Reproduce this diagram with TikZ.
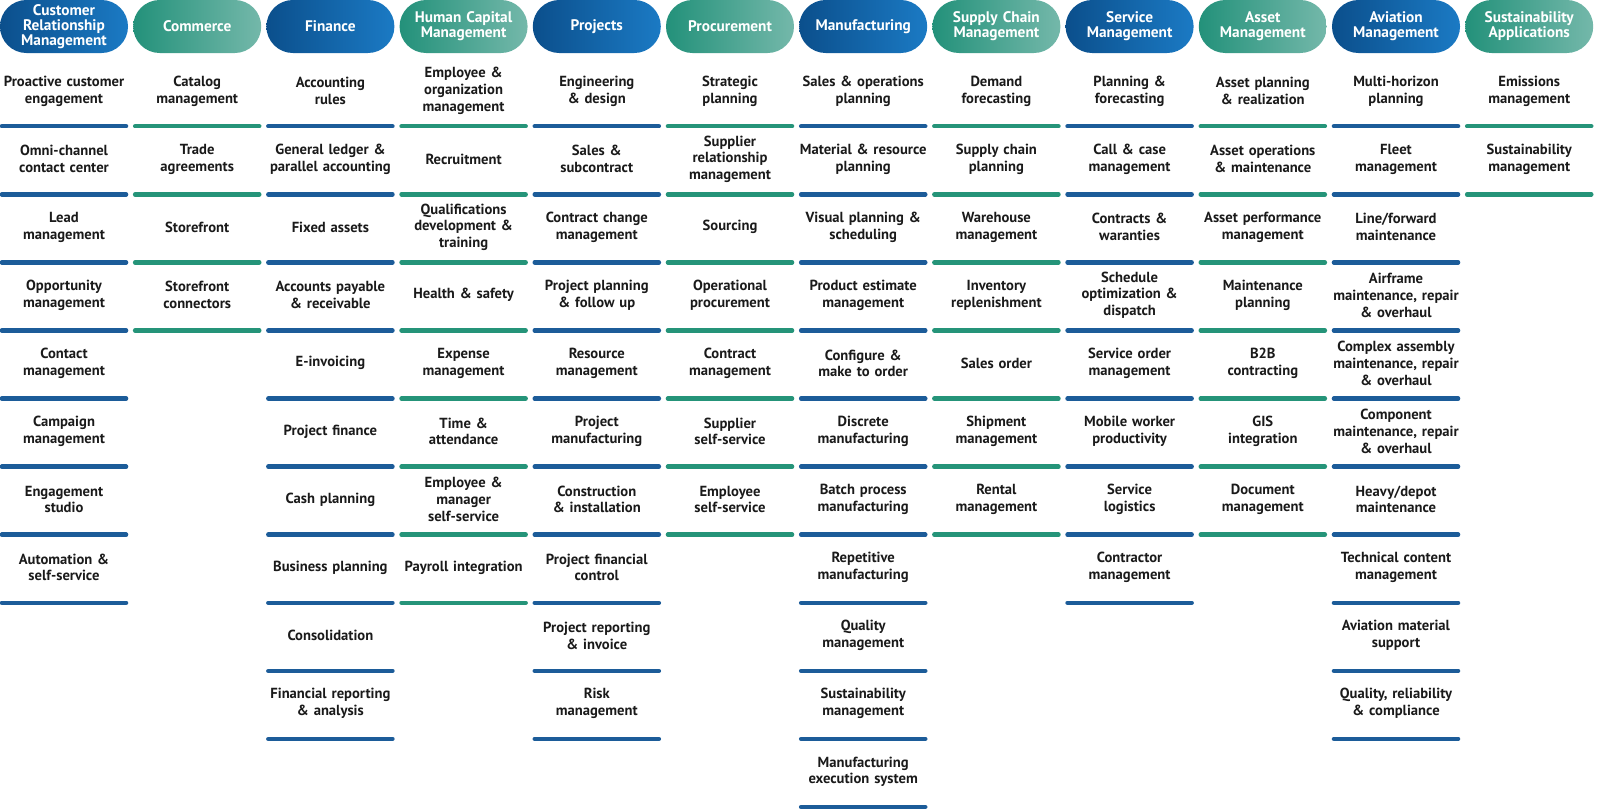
\documentclass[tikz,border=0pt]{standalone}
\usepackage{fontspec}
\setmainfont{PT Sans}
\definecolor{blueL}{HTML}{0B4F8C}
\definecolor{blueR}{HTML}{1B7AC4}
\definecolor{tealL}{HTML}{23917A}
\definecolor{tealR}{HTML}{74B8AA}
\definecolor{bluebarc}{HTML}{1C5C99}
\definecolor{tealbarc}{HTML}{259479}
\definecolor{ink}{HTML}{1A1A1A}
\begin{document}
\begin{tikzpicture}[x=0.025cm, y=-0.025cm,
    every node/.style={font=\bfseries\fontsize{10.4}{11.9}\selectfont},
    cell/.style={text width=3.33cm, align=center, inner sep=0pt, minimum height=1.75cm, text=ink},
    head/.style={text width=3.2cm, align=center, inner sep=0pt, minimum height=1.325cm, rounded corners=0.6625cm, text=white, font=\bfseries\fontsize{10.9}{10.7}\selectfont},
    bluehead/.style={head, left color=blueL, right color=blueR},
    tealhead/.style={head, left color=tealL, right color=tealR},
    bar/.style={line width=0.11cm, line cap=round, shorten <=0.12cm, shorten >=0.12cm},
    bluebar/.style={bar, bluebarc},
    tealbar/.style={bar, tealbarc}]
        \useasboundingbox (0, 0) rectangle (1600, 809);
        % headers
        \node [bluehead] (hcrm) at (64, 26.5) {Customer\\Relationship\\Management};
        \node [tealhead] (hcom) at (197.2, 26.5) {Commerce};
        \node [bluehead] (hfin) at (330.4, 26.5) {Finance};
        \node [tealhead] (hhcm) at (463.6, 26.5) {Human Capital\\Management};
        \node [bluehead] (hprj) at (596.8, 26.5) {Projects};
        \node [tealhead] (hpro) at (730, 26.5) {Procurement};
        \node [bluehead] (hmfg) at (863.2, 26.5) {Manufacturing};
        \node [tealhead] (hscm) at (996.4, 26.5) {Supply Chain\\Management};
        \node [bluehead] (hsvc) at (1129.6, 26.5) {Service\\Management};
        \node [tealhead] (hast) at (1262.8, 26.5) {Asset\\Management};
        \node [bluehead] (havi) at (1396, 26.5) {Aviation\\Management};
        \node [tealhead] (hsus) at (1529.2, 26.5) {Sustainability\\Applications};
        % customer relationship management
        \node [cell] (crm1) at (64, 91) {Proactive customer\\engagement};
        \node [cell] (crm2) at (64, 159.1) {Omni-channel\\contact center};
        \node [cell] (crm3) at (64, 227.1) {Lead\\management};
        \node [cell] (crm4) at (64, 295.2) {Opportunity\\management};
        \node [cell] (crm5) at (64, 363.3) {Contact\\management};
        \node [cell] (crm6) at (64, 431.4) {Campaign\\management};
        \node [cell] (crm7) at (64, 499.4) {Engagement\\studio};
        \node [cell] (crm8) at (64, 567.5) {Automation \&\\self-service};
        \draw [bluebar] (crm1.south west) -- (crm1.south east);
        \draw [bluebar] (crm2.south west) -- (crm2.south east);
        \draw [bluebar] (crm3.south west) -- (crm3.south east);
        \draw [bluebar] (crm4.south west) -- (crm4.south east);
        \draw [bluebar] (crm5.south west) -- (crm5.south east);
        \draw [bluebar] (crm6.south west) -- (crm6.south east);
        \draw [bluebar] (crm7.south west) -- (crm7.south east);
        \draw [bluebar] (crm8.south west) -- (crm8.south east);
        % commerce
        \node [cell] (com1) at (197.2, 91) {Catalog\\management};
        \node [cell] (com2) at (197.2, 159.1) {Trade\\agreements};
        \node [cell] (com3) at (197.2, 227.1) {Storefront};
        \node [cell] (com4) at (197.2, 295.2) {Storefront\\connectors};
        \draw [tealbar] (com1.south west) -- (com1.south east);
        \draw [tealbar] (com2.south west) -- (com2.south east);
        \draw [tealbar] (com3.south west) -- (com3.south east);
        \draw [tealbar] (com4.south west) -- (com4.south east);
        % finance
        \node [cell] (fin1) at (330.4, 91) {Accounting\\rules};
        \node [cell] (fin2) at (330.4, 159.1) {General ledger \&\\parallel accounting};
        \node [cell] (fin3) at (330.4, 227.1) {Fixed assets};
        \node [cell] (fin4) at (330.4, 295.2) {Accounts payable\\\& receivable};
        \node [cell] (fin5) at (330.4, 363.3) {E-invoicing};
        \node [cell] (fin6) at (330.4, 431.4) {Project finance};
        \node [cell] (fin7) at (330.4, 499.4) {Cash planning};
        \node [cell] (fin8) at (330.4, 567.5) {Business planning};
        \node [cell] (fin9) at (330.4, 635.6) {Consolidation};
        \node [cell] (fin10) at (330.4, 703.6) {Financial reporting\\\& analysis};
        \draw [bluebar] (fin1.south west) -- (fin1.south east);
        \draw [bluebar] (fin2.south west) -- (fin2.south east);
        \draw [bluebar] (fin3.south west) -- (fin3.south east);
        \draw [bluebar] (fin4.south west) -- (fin4.south east);
        \draw [bluebar] (fin5.south west) -- (fin5.south east);
        \draw [bluebar] (fin6.south west) -- (fin6.south east);
        \draw [bluebar] (fin7.south west) -- (fin7.south east);
        \draw [bluebar] (fin8.south west) -- (fin8.south east);
        \draw [bluebar] (fin9.south west) -- (fin9.south east);
        \draw [bluebar] (fin10.south west) -- (fin10.south east);
        % human capital management
        \node [cell] (hcm1) at (463.6, 91) {Employee \&\\organization\\management};
        \node [cell] (hcm2) at (463.6, 159.1) {Recruitment};
        \node [cell] (hcm3) at (463.6, 227.1) {Qualifications\\development \&\\training};
        \node [cell] (hcm4) at (463.6, 295.2) {Health \& safety};
        \node [cell] (hcm5) at (463.6, 363.3) {Expense\\management};
        \node [cell] (hcm6) at (463.6, 431.4) {Time \&\\attendance};
        \node [cell] (hcm7) at (463.6, 499.4) {Employee \&\\manager\\self-service};
        \node [cell] (hcm8) at (463.6, 567.5) {Payroll integration};
        \draw [tealbar] (hcm1.south west) -- (hcm1.south east);
        \draw [tealbar] (hcm2.south west) -- (hcm2.south east);
        \draw [tealbar] (hcm3.south west) -- (hcm3.south east);
        \draw [tealbar] (hcm4.south west) -- (hcm4.south east);
        \draw [tealbar] (hcm5.south west) -- (hcm5.south east);
        \draw [tealbar] (hcm6.south west) -- (hcm6.south east);
        \draw [tealbar] (hcm7.south west) -- (hcm7.south east);
        \draw [tealbar] (hcm8.south west) -- (hcm8.south east);
        % projects
        \node [cell] (prj1) at (596.8, 91) {Engineering\\\& design};
        \node [cell] (prj2) at (596.8, 159.1) {Sales \&\\subcontract};
        \node [cell] (prj3) at (596.8, 227.1) {Contract change\\management};
        \node [cell] (prj4) at (596.8, 295.2) {Project planning\\\& follow up};
        \node [cell] (prj5) at (596.8, 363.3) {Resource\\management};
        \node [cell] (prj6) at (596.8, 431.4) {Project\\manufacturing};
        \node [cell] (prj7) at (596.8, 499.4) {Construction\\\& installation};
        \node [cell] (prj8) at (596.8, 567.5) {Project financial\\control};
        \node [cell] (prj9) at (596.8, 635.6) {Project reporting\\\& invoice};
        \node [cell] (prj10) at (596.8, 703.6) {Risk\\management};
        \draw [bluebar] (prj1.south west) -- (prj1.south east);
        \draw [bluebar] (prj2.south west) -- (prj2.south east);
        \draw [bluebar] (prj3.south west) -- (prj3.south east);
        \draw [bluebar] (prj4.south west) -- (prj4.south east);
        \draw [bluebar] (prj5.south west) -- (prj5.south east);
        \draw [bluebar] (prj6.south west) -- (prj6.south east);
        \draw [bluebar] (prj7.south west) -- (prj7.south east);
        \draw [bluebar] (prj8.south west) -- (prj8.south east);
        \draw [bluebar] (prj9.south west) -- (prj9.south east);
        \draw [bluebar] (prj10.south west) -- (prj10.south east);
        % procurement
        \node [cell] (pro1) at (730, 91) {Strategic\\planning};
        \node [cell] (pro2) at (730, 159.1) {Supplier\\relationship\\management};
        \node [cell] (pro3) at (730, 227.1) {Sourcing};
        \node [cell] (pro4) at (730, 295.2) {Operational\\procurement};
        \node [cell] (pro5) at (730, 363.3) {Contract\\management};
        \node [cell] (pro6) at (730, 431.4) {Supplier\\self-service};
        \node [cell] (pro7) at (730, 499.4) {Employee\\self-service};
        \draw [tealbar] (pro1.south west) -- (pro1.south east);
        \draw [tealbar] (pro2.south west) -- (pro2.south east);
        \draw [tealbar] (pro3.south west) -- (pro3.south east);
        \draw [tealbar] (pro4.south west) -- (pro4.south east);
        \draw [tealbar] (pro5.south west) -- (pro5.south east);
        \draw [tealbar] (pro6.south west) -- (pro6.south east);
        \draw [tealbar] (pro7.south west) -- (pro7.south east);
        % manufacturing
        \node [cell] (mfg1) at (863.2, 91) {Sales \& operations\\planning};
        \node [cell] (mfg2) at (863.2, 159.1) {Material \& resource\\planning};
        \node [cell] (mfg3) at (863.2, 227.1) {Visual planning \&\\scheduling};
        \node [cell] (mfg4) at (863.2, 295.2) {Product estimate\\management};
        \node [cell] (mfg5) at (863.2, 363.3) {Configure \&\\make to order};
        \node [cell] (mfg6) at (863.2, 431.4) {Discrete\\manufacturing};
        \node [cell] (mfg7) at (863.2, 499.4) {Batch process\\manufacturing};
        \node [cell] (mfg8) at (863.2, 567.5) {Repetitive\\manufacturing};
        \node [cell] (mfg9) at (863.2, 635.6) {Quality\\management};
        \node [cell] (mfg10) at (863.2, 703.6) {Sustainability\\management};
        \node [cell] (mfg11) at (863.2, 771.7) {Manufacturing\\execution system};
        \draw [bluebar] (mfg1.south west) -- (mfg1.south east);
        \draw [bluebar] (mfg2.south west) -- (mfg2.south east);
        \draw [bluebar] (mfg3.south west) -- (mfg3.south east);
        \draw [bluebar] (mfg4.south west) -- (mfg4.south east);
        \draw [bluebar] (mfg5.south west) -- (mfg5.south east);
        \draw [bluebar] (mfg6.south west) -- (mfg6.south east);
        \draw [bluebar] (mfg7.south west) -- (mfg7.south east);
        \draw [bluebar] (mfg8.south west) -- (mfg8.south east);
        \draw [bluebar] (mfg9.south west) -- (mfg9.south east);
        \draw [bluebar] (mfg10.south west) -- (mfg10.south east);
        \draw [bluebar] (mfg11.south west) -- (mfg11.south east);
        % supply chain management
        \node [cell] (scm1) at (996.4, 91) {Demand\\forecasting};
        \node [cell] (scm2) at (996.4, 159.1) {Supply chain\\planning};
        \node [cell] (scm3) at (996.4, 227.1) {Warehouse\\management};
        \node [cell] (scm4) at (996.4, 295.2) {Inventory\\replenishment};
        \node [cell] (scm5) at (996.4, 363.3) {Sales order};
        \node [cell] (scm6) at (996.4, 431.4) {Shipment\\management};
        \node [cell] (scm7) at (996.4, 499.4) {Rental\\management};
        \draw [tealbar] (scm1.south west) -- (scm1.south east);
        \draw [tealbar] (scm2.south west) -- (scm2.south east);
        \draw [tealbar] (scm3.south west) -- (scm3.south east);
        \draw [tealbar] (scm4.south west) -- (scm4.south east);
        \draw [tealbar] (scm5.south west) -- (scm5.south east);
        \draw [tealbar] (scm6.south west) -- (scm6.south east);
        \draw [tealbar] (scm7.south west) -- (scm7.south east);
        % service management
        \node [cell] (svc1) at (1129.6, 91) {Planning \&\\forecasting};
        \node [cell] (svc2) at (1129.6, 159.1) {Call \& case\\management};
        \node [cell] (svc3) at (1129.6, 227.1) {Contracts \&\\waranties};
        \node [cell] (svc4) at (1129.6, 295.2) {Schedule\\optimization \&\\dispatch};
        \node [cell] (svc5) at (1129.6, 363.3) {Service order\\management};
        \node [cell] (svc6) at (1129.6, 431.4) {Mobile worker\\productivity};
        \node [cell] (svc7) at (1129.6, 499.4) {Service\\logistics};
        \node [cell] (svc8) at (1129.6, 567.5) {Contractor\\management};
        \draw [bluebar] (svc1.south west) -- (svc1.south east);
        \draw [bluebar] (svc2.south west) -- (svc2.south east);
        \draw [bluebar] (svc3.south west) -- (svc3.south east);
        \draw [bluebar] (svc4.south west) -- (svc4.south east);
        \draw [bluebar] (svc5.south west) -- (svc5.south east);
        \draw [bluebar] (svc6.south west) -- (svc6.south east);
        \draw [bluebar] (svc7.south west) -- (svc7.south east);
        \draw [bluebar] (svc8.south west) -- (svc8.south east);
        % asset management
        \node [cell] (ast1) at (1262.8, 91) {Asset planning\\\& realization};
        \node [cell] (ast2) at (1262.8, 159.1) {Asset operations\\\& maintenance};
        \node [cell] (ast3) at (1262.8, 227.1) {Asset performance\\management};
        \node [cell] (ast4) at (1262.8, 295.2) {Maintenance\\planning};
        \node [cell] (ast5) at (1262.8, 363.3) {B2B\\contracting};
        \node [cell] (ast6) at (1262.8, 431.4) {GIS\\integration};
        \node [cell] (ast7) at (1262.8, 499.4) {Document\\management};
        \draw [tealbar] (ast1.south west) -- (ast1.south east);
        \draw [tealbar] (ast2.south west) -- (ast2.south east);
        \draw [tealbar] (ast3.south west) -- (ast3.south east);
        \draw [tealbar] (ast4.south west) -- (ast4.south east);
        \draw [tealbar] (ast5.south west) -- (ast5.south east);
        \draw [tealbar] (ast6.south west) -- (ast6.south east);
        \draw [tealbar] (ast7.south west) -- (ast7.south east);
        % aviation management
        \node [cell] (avi1) at (1396, 91) {Multi-horizon\\planning};
        \node [cell] (avi2) at (1396, 159.1) {Fleet\\management};
        \node [cell] (avi3) at (1396, 227.1) {Line/forward\\maintenance};
        \node [cell] (avi4) at (1396, 295.2) {Airframe\\maintenance, repair\\\& overhaul};
        \node [cell] (avi5) at (1396, 363.3) {Complex assembly\\maintenance, repair\\\& overhaul};
        \node [cell] (avi6) at (1396, 431.4) {Component\\maintenance, repair\\\& overhaul};
        \node [cell] (avi7) at (1396, 499.4) {Heavy/depot\\maintenance};
        \node [cell] (avi8) at (1396, 567.5) {Technical content\\management};
        \node [cell] (avi9) at (1396, 635.6) {Aviation material\\support};
        \node [cell] (avi10) at (1396, 703.6) {Quality, reliability\\\& compliance};
        \draw [bluebar] (avi1.south west) -- (avi1.south east);
        \draw [bluebar] (avi2.south west) -- (avi2.south east);
        \draw [bluebar] (avi3.south west) -- (avi3.south east);
        \draw [bluebar] (avi4.south west) -- (avi4.south east);
        \draw [bluebar] (avi5.south west) -- (avi5.south east);
        \draw [bluebar] (avi6.south west) -- (avi6.south east);
        \draw [bluebar] (avi7.south west) -- (avi7.south east);
        \draw [bluebar] (avi8.south west) -- (avi8.south east);
        \draw [bluebar] (avi9.south west) -- (avi9.south east);
        \draw [bluebar] (avi10.south west) -- (avi10.south east);
        % sustainability applications
        \node [cell] (sus1) at (1529.2, 91) {Emissions\\management};
        \node [cell] (sus2) at (1529.2, 159.1) {Sustainability\\management};
        \draw [tealbar] (sus1.south west) -- (sus1.south east);
        \draw [tealbar] (sus2.south west) -- (sus2.south east);
      \end{tikzpicture}
\end{document}
